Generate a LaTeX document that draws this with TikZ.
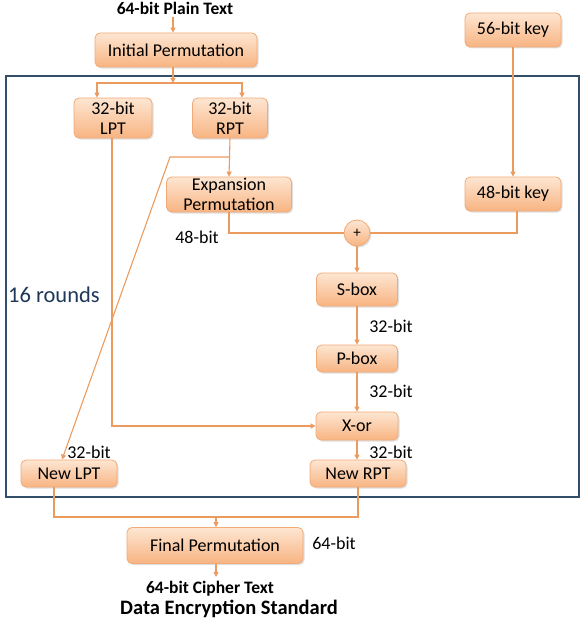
\documentclass[tikz,border=0pt]{standalone}
\usepackage{fontspec}
\setmainfont{Carlito}
\usetikzlibrary{arrows.meta,shadows}
\definecolor{boxtop}{RGB}{253,230,210}
\definecolor{boxbot}{RGB}{248,180,130}
\definecolor{boxline}{RGB}{242,170,118}
\definecolor{wire}{RGB}{236,155,95}
\definecolor{frame}{RGB}{50,78,104}
\definecolor{roundtxt}{RGB}{31,56,90}
\tikzset{
  blk/.style={draw=boxline, line width=0.8pt, rounded corners=5pt, top color=boxtop, bottom color=boxbot,
    drop shadow={shadow xshift=1.5pt, shadow yshift=-1.5pt, opacity=0.25, fill=gray},
    align=center, inner sep=0pt, font=\fontsize{18}{20}\selectfont},
  wire/.style={draw=wire, line width=1.1pt},
  arr/.style={wire, -{Triangle[length=5pt,width=5pt]}},
  lbl/.style={font=\fontsize{18}{20}\selectfont, inner sep=0pt},
}
\begin{document}
\begin{tikzpicture}[x=1pt,y=-1pt]
\useasboundingbox (0,0) rectangle (585,626);
% frame
\draw[frame, line width=1.8pt] (6,76) rectangle (579,497);
% nodes
\node[font=\bfseries\fontsize{17.5}{19}\selectfont, inner sep=0pt] (pt) at (175,8) {64-bit Plain Text};
\node[blk, minimum width=162pt, minimum height=34pt] (ip) at (176,50) {Initial Permutation};
\node[blk, minimum width=78pt, minimum height=40pt] (lpt) at (113,118) {32-bit\\LPT};
\node[blk, minimum width=75pt, minimum height=40pt] (rpt) at (230,118) {32-bit\\RPT};
\node[blk, minimum width=96pt, minimum height=34pt] (k56) at (513,30) {56-bit key};
\node[blk, minimum width=96pt, minimum height=34pt] (k48) at (513,194) {48-bit key};
\node[blk, minimum width=125pt, minimum height=35pt] (exp) at (229,194.5) {Expansion\\Permutation};
\node[blk, circle, minimum size=26pt, font=\fontsize{15}{16}\selectfont] (xor1) at (357,233) {+};
\node[blk, minimum width=81pt, minimum height=33pt] (sbox) at (357,289.5) {S-box};
\node[blk, minimum width=81pt, minimum height=27pt] (pbox) at (357,358.5) {P-box};
\node[blk, minimum width=82pt, minimum height=28pt] (xor2) at (357,426) {X-or};
\node[blk, minimum width=96pt, minimum height=27pt] (nlpt) at (69,473.5) {New LPT};
\node[blk, minimum width=96pt, minimum height=27pt] (nrpt) at (358,473.5) {New RPT};
\node[blk, minimum width=176pt, minimum height=36pt] (fp) at (215,545.5) {Final Permutation};
\node[font=\bfseries\fontsize{17.5}{19}\selectfont, inner sep=0pt] (ct) at (210,589) {64-bit Cipher Text};
\node[font=\bfseries\fontsize{20.5}{22}\selectfont, inner sep=0pt] (title) at (229,609) {Data Encryption Standard};
\node[font=\fontsize{22.5}{24}\selectfont, text=roundtxt, inner sep=0pt] (rounds) at (54,295) {16 rounds};
% labels
\node[lbl] (l48) at (197,237) {48-bit};
\node[lbl] (l32a) at (391,326) {32-bit};
\node[lbl] (l32b) at (391,391) {32-bit};
\node[lbl] (l32c) at (391,452) {32-bit};
\node[lbl] (l32d) at (89,452) {32-bit};
\node[lbl] (l64) at (334,543) {64-bit};
% helper coordinates
\coordinate (split) at (173,83);
\coordinate (tap) at (230,157);
\coordinate (bend) at (170,157);
\coordinate (merge) at (216,517);
% connectors
\draw[arr] (pt.south -| 173,0) ++(0,3) -- (ip.north -| 173,0);
\draw[arr] (ip.south -| 173,0) -- (split);
\draw[arr] (split) -| ([xshift=-16pt]lpt.north);
\draw[arr] (split) -| ([xshift=12pt]rpt.north);
\draw[arr] (rpt.south) -- (exp.north);
\draw[arr] (tap) -- (bend) -- ([xshift=-7pt]nlpt.north);
\draw[arr] (k56.south) -- (k48.north);
\draw[wire] (exp.south) |- (xor1.west);
\draw[wire] ([xshift=4pt]k48.south) |- (xor1.east);
\draw[arr] (xor1.south) -- (sbox.north);
\draw[arr] (sbox.south) -- (pbox.north);
\draw[arr] (pbox.south) -- (xor2.north);
\draw[arr] ([xshift=-1pt]lpt.south) |- (xor2.west);
\draw[arr] (xor2.south) -- (xor2.south |- nrpt.north);
\draw[wire] ([xshift=-15pt]nlpt.south) |- (merge);
\draw[wire] (nrpt.south) |- (merge);
\draw[arr] (merge) -- (fp.north -| merge);
\draw[arr] (fp.south -| merge) -- ++(0,13);
\end{tikzpicture}
\end{document}
